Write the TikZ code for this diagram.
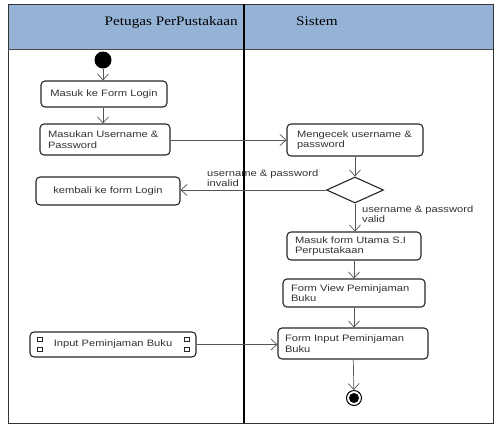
\documentclass[tikz,border=0pt]{standalone}
\usepackage{fontspec}
\setmainfont{Liberation Serif}
\newfontfamily\boxfont[FakeStretch=1.2]{Liberation Sans}
\newfontfamily\headfont[FakeStretch=1.17]{Liberation Serif}
\usetikzlibrary{shapes.geometric,arrows.meta}
\definecolor{hdr}{HTML}{95B3D7}
\definecolor{txt}{HTML}{333333}
\definecolor{arr}{HTML}{555555}
\begin{document}
\begin{tikzpicture}[x=1pt,y=-1pt,
  act/.style={draw=black!85, line width=1.1pt, rounded corners=4pt, inner sep=0pt,
    font=\boxfont\fontsize{9.3}{10.5}\selectfont, text=txt},
  lbl/.style={inner sep=0pt, align=left, anchor=west,
    font=\boxfont\fontsize{9.3}{10}\selectfont, text=txt},
  flow/.style={draw=arr, line width=0.7pt, -{Straight Barb[length=6pt,width=11pt]}},
  hd/.style={inner sep=0pt, font=\headfont\fontsize{13}{15}\selectfont, text=black},
  pin/.style={draw=black!85, line width=0.7pt}
]
\useasboundingbox (0,0) rectangle (498,429);
% swimlane frame
\fill[hdr] (8,4) rectangle (493,49);
\draw[black!80, line width=0.8pt] (8,4) rectangle (493,423);
\draw[black!70, line width=0.6pt] (8,49) -- (493,49);
\draw[black, line width=1.8pt] (244,4) -- (244,423);
\node[hd, anchor=base east] (h1) at (238,25) {Petugas PerPustakaan};
\node[hd, anchor=base west] (h2) at (296,25) {Sistem};
% nodes
\node[circle, fill=black, minimum size=17pt, inner sep=0pt] (start) at (103,60) {};
\node[act, minimum width=126pt, minimum height=26pt, text width=110pt, align=center] (login) at (104,94) {Masuk ke Form Login};
\node[act, minimum width=130pt, minimum height=31pt, text width=114pt, inner xsep=8pt, align=left] (masukan) at (105,139.5) {Masukan Username \&\\Password};
\node[act, minimum width=136pt, minimum height=32pt, text width=116pt, inner xsep=10pt, align=left] (cek) at (355,140) {Mengecek username \&\\password};
\node[diamond, draw=black!85, line width=1.1pt, minimum width=57pt, minimum height=26pt, inner sep=0pt] (dec) at (355,190) {};
\node[act, minimum width=144pt, minimum height=28pt, text width=130pt, align=center] (kembali) at (108,191) {kembali ke form Login};
\node[act, minimum width=134pt, minimum height=28pt, text width=118pt, inner xsep=8pt, align=left] (utama) at (354,246) {Masuk form Utama S.I\\Perpustakaan};
\node[act, minimum width=142pt, minimum height=28pt, text width=126pt, inner xsep=8pt, align=left] (view) at (354,293) {Form View Peminjaman\\Buku};
\node[act, minimum width=150pt, minimum height=31pt, text width=136pt, inner xsep=7pt, align=left] (forminput) at (353,343.5) {Form Input Peminjaman\\Buku};
\node[act, minimum width=166pt, minimum height=25pt, text width=150pt, align=center] (inputl) at (113,344.5) {Input Peminjaman Buku};
\node[circle, draw=black, line width=1pt, fill=white, minimum size=15pt, inner sep=0pt] (end) at (354,398) {};
\fill[black] (end.center) circle (5pt);
% pins on the input action
\draw[pin] (37.5,337.5) rectangle (42.5,341.5);
\draw[pin] (37.5,347.5) rectangle (42.5,351.5);
\draw[pin] (184.5,337.5) rectangle (189.5,341.5);
\draw[pin] (184.5,347.5) rectangle (189.5,351.5);
% flows
\draw[flow] (start) -- (start |- login.north);
\draw[flow] (login.south -| start) -- (masukan.north -| start);
\draw[flow] (masukan.east |- cek.west) -- (cek.west);
\draw[flow] (cek.south -| dec) -- (dec.north);
\draw[flow] (dec.west) -- (kembali.east |- dec.west);
\draw[flow] (dec.south) -- (dec.south |- utama.north);
\draw[flow] (utama) -- (utama |- view.north);
\draw[flow] (view) -- (view |- forminput.north);
\draw[flow] (forminput) -- (end);
\draw[flow] (inputl) -- (inputl -| forminput.west);
% guards
\node[lbl] (ginv) at (207,178) {username \& password\\invalid};
\node[lbl] (gval) at (362,214.5) {username \& password\\valid};
\end{tikzpicture}
\end{document}
